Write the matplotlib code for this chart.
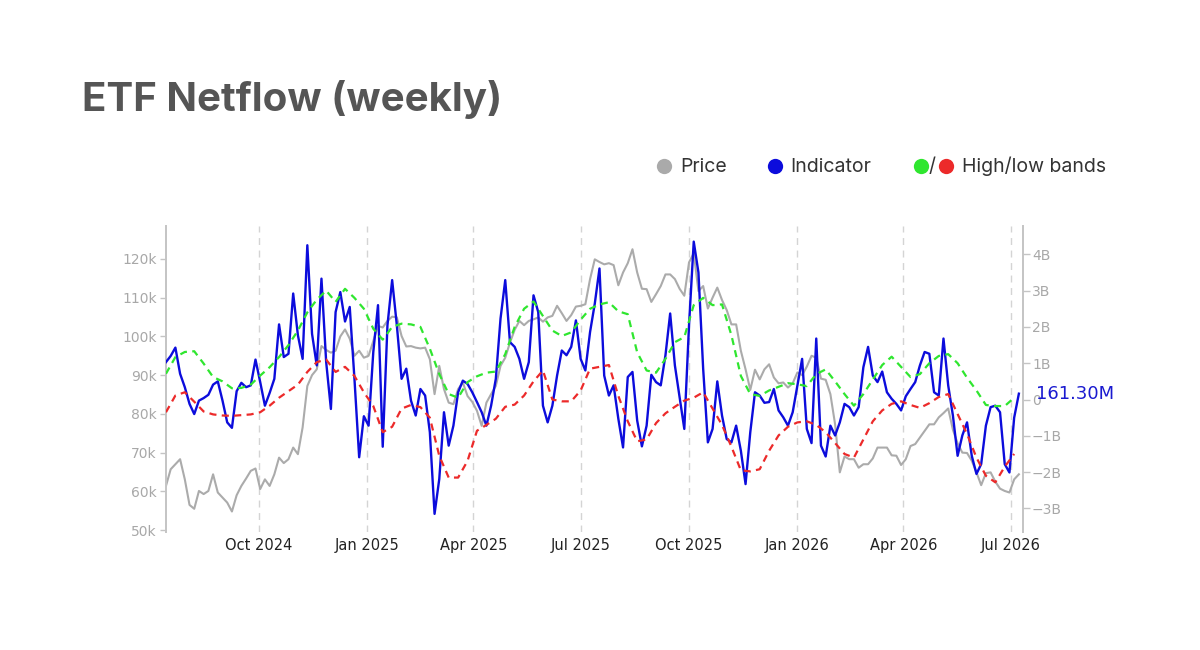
import numpy as np
import pandas as pd
import matplotlib
matplotlib.use("Agg")
import matplotlib.pyplot as plt
import matplotlib.dates as mdates
from matplotlib.ticker import FuncFormatter, MultipleLocator
from matplotlib.transforms import blended_transform_factory

plt.rcParams["font.family"] = ["DejaVu Sans"]

# series sampled every 4 days (price, indicator) and every 8 days (bands)
start_date = "2024-07-14"
step_days = 4
band_step_days = 8

price_k = [
    61.4, 65.7, 67.0, 68.3, 63.1, 56.5, 55.5, 60.1, 59.3, 60.1,
    64.4, 59.7, 58.4, 57.1, 54.8, 59.0, 61.4, 63.3, 65.3, 65.9,
    60.6, 63.1, 61.4, 64.4, 68.7, 67.3, 68.3, 71.3, 69.6, 76.5,
    87.2, 90.0, 91.5, 97.5, 96.5, 95.8, 96.3, 100.0, 101.8, 99.4,
    95.0, 96.3, 94.5, 95.0, 98.8, 102.7,
    102.3, 104.0, 105.1, 104.9, 100.1, 97.4, 97.5, 97.1, 96.9, 97.1,
    94.1, 85.1, 92.4, 86.4, 82.9, 82.5, 86.4, 88.1, 84.6, 83.1,
    80.8, 76.9, 82.9, 85.1, 87.2, 92.4, 94.5, 98.4, 101.7, 104.0,
    102.9, 104.0, 104.4, 104.9, 103.8, 104.9, 105.3, 107.9, 106.0, 104.0,
    105.5, 107.7, 107.9, 108.3, 114.8, 119.9,
    119.2, 118.6, 118.9, 118.4, 113.2, 116.5, 118.9, 122.5, 116.5, 112.3,
    112.2, 108.9, 110.9, 113.0, 116.0, 116.0, 114.8, 112.3, 110.5, 119.1,
    121.5, 111.7, 113.0, 107.2, 110.0, 112.6, 109.4, 106.8, 103.1, 103.1,
    96.3, 91.5, 86.2, 91.4, 88.9, 91.5, 92.8, 89.4, 87.9, 88.1,
    86.8, 87.9, 90.7, 90.0, 92.2,
    95.0, 94.5, 89.1, 88.8, 85.1, 77.3, 64.9, 69.0, 68.3, 68.3,
    66.1, 67.0, 67.0, 68.5, 71.3, 71.3, 71.3, 69.3, 69.2, 66.8,
    68.3, 71.7, 72.2, 73.9, 75.6, 77.3, 77.3, 79.1, 80.2, 81.4,
    75.9, 72.4, 70.0, 69.9, 67.9, 64.9, 61.6, 64.7, 64.9, 62.5,
    60.7, 60.1, 59.7, 63.1, 64.4,
]

indicator_b = [
    1.03, 1.20, 1.43, 0.71, 0.34, -0.12, -0.40, -0.03, 0.04, 0.13,
    0.41, 0.50, -0.03, -0.63, -0.78, 0.23, 0.46, 0.34, 0.39, 1.10,
    0.48, -0.17, 0.18, 0.57, 2.07, 1.17, 1.26, 2.92, 1.77, 1.12,
    4.25, 1.81, 0.94, 3.33, 1.03, -0.26, 2.41, 2.96, 2.15, 2.55,
    0.57, -1.59, -0.46, -0.72, 1.31, 2.60,
    -1.30, 2.04, 3.29, 2.04, 0.57, 0.85, -0.03, -0.44, 0.29, 0.11,
    -0.90, -3.15, -2.19, -0.35, -1.27, -0.72, 0.20, 0.52, 0.43, 0.20,
    -0.07, -0.35, -0.72, -0.17, 0.57, 2.23, 3.29, 1.58, 1.45, 1.12,
    0.57, 1.03, 2.87, 2.41, -0.17, -0.63, -0.17, 0.66, 1.35, 1.22,
    1.45, 2.18, 1.12, 0.80, 1.86, 2.64,
    3.61, 0.66, 0.11, 0.39, -0.53, -1.32, 0.62, 0.76, -0.58, -1.29,
    -0.72, 0.68, 0.48, 0.39, 1.22, 2.37, 0.94, 0.06, -0.81, 2.04,
    4.35, 3.50, 0.85, -1.18, -0.81, 0.50, -0.44, -1.09, -1.18, -0.72,
    -1.41, -2.33, -0.90, 0.20, 0.11, -0.09, -0.07, 0.29, -0.30, -0.49,
    -0.72, -0.35, 0.39, 1.12, -0.81,
    -1.20, 1.68, -1.27, -1.57, -0.72, -0.99, -0.63, -0.12, -0.21, -0.44,
    -0.21, 0.89, 1.45, 0.66, 0.48, 0.77, 0.20, 0.02, -0.12, -0.30,
    0.09, 0.29, 0.48, 0.94, 1.31, 1.26, 0.20, 0.11, 1.68, 0.39,
    -0.44, -1.55, -0.99, -0.63, -1.55, -2.05, -1.78, -0.72, -0.21, -0.17,
    -0.35, -1.78, -2.01, -0.50, 0.1613,
]

high_band_b = [
    0.71, 1.17, 1.31, 1.33, 0.99, 0.62, 0.50, 0.31, 0.32, 0.41,
    0.66, 0.89, 1.17, 1.50, 1.90, 2.40, 2.75, 3.00, 2.69, 3.05,
    2.80, 2.50, 1.95,
    1.65, 2.00, 2.09, 2.07, 2.00, 1.40, 0.70, 0.15, 0.05, 0.48,
    0.64, 0.74, 0.77,
    1.25, 2.00, 2.50, 2.70, 2.30, 1.90, 1.75, 1.85, 2.20, 2.50,
    2.62, 2.68, 2.43, 2.35, 1.30, 0.80, 0.74, 1.12, 1.58, 1.72,
    2.60, 2.80, 2.60, 2.62, 1.77, 0.65,
    0.15, 0.10, 0.25, 0.35, 0.45, 0.42, 0.37, 0.70, 0.83, 0.50,
    0.15, -0.17, 0.15, 0.55, 0.95, 1.18, 0.90, 0.62, 0.70, 1.00,
    1.20, 1.25, 1.00, 0.60, 0.25, -0.15, -0.18, -0.18, 0.05,
]

low_band_b = [
    -0.35, 0.11, 0.20, -0.06, -0.33, -0.41, -0.44, -0.45, -0.43, -0.41,
    -0.35, -0.17, 0.05, 0.23, 0.41, 0.76, 1.03, 1.10, 0.76, 0.90,
    0.65, 0.20, -0.18,
    -0.90, -0.75, -0.25, -0.15, -0.21, -0.50, -1.55, -2.15, -2.15, -1.69,
    -0.86, -0.70, -0.53,
    -0.20, -0.14, 0.11, 0.50, 0.80, 0.00, -0.05, -0.05, 0.25, 0.85,
    0.90, 0.95, 0.10, -0.60, -1.15, -1.10, -0.65, -0.38, -0.20, -0.03,
    0.05, 0.20, -0.25, -0.70, -1.30, -1.95,
    -1.98, -1.92, -1.41, -0.99, -0.75, -0.63, -0.60, -0.70, -0.90, -1.20,
    -1.50, -1.60, -1.10, -0.60, -0.30, -0.12, -0.05, -0.15, -0.23, -0.10,
    0.07, 0.15, -0.40, -0.95, -1.60, -2.10, -2.28, -1.85, -1.50,
]

start = pd.Timestamp(start_date)
dates = start + pd.to_timedelta(np.arange(len(price_k)) * step_days, unit="D")
band_dates = start + pd.to_timedelta(np.arange(len(high_band_b)) * band_step_days, unit="D")

price = np.array(price_k) * 1e3
indicator = np.array(indicator_b) * 1e9
high_band = np.array(high_band_b) * 1e9
low_band = np.array(low_band_b) * 1e9

fig = plt.figure(figsize=(12, 6.5), dpi=100)
ax = fig.add_axes([0.1383, 0.1815, 0.7142, 0.4708])
ax2 = ax.twinx()

ax.plot(dates, price, color="#ababab", lw=1.5)
ax2.plot(dates, indicator, color="#0c0cdc", lw=1.7)
ax2.plot(band_dates, high_band, color="#2fe62f", lw=1.6, ls=(0, (3.2, 2.4)))
ax2.plot(band_dates, low_band, color="#ec2a2a", lw=1.6, ls=(0, (3.2, 2.4)))

ax.set_xlim(start, start + pd.Timedelta(days=727.5))
ax.set_ylim(49500, 128500)
ax2.set_ylim(-3.65e9, 4.78e9)

ax.xaxis.set_major_locator(mdates.MonthLocator(bymonth=[1, 4, 7, 10]))
ax.xaxis.set_major_formatter(mdates.DateFormatter("%b %Y"))
ax.yaxis.set_major_locator(MultipleLocator(10000))
ax.yaxis.set_major_formatter(FuncFormatter(lambda v, p: f"{int(round(v / 1000))}k"))
ax2.yaxis.set_major_locator(MultipleLocator(1e9))


def fmt_b(v, p):
    b = int(round(v / 1e9))
    if b == 0:
        return "0"
    return f"{b}B".replace("-", "\u2212")


ax2.yaxis.set_major_formatter(FuncFormatter(fmt_b))

ax.grid(axis="x", color="#d4d4d4", lw=1.0, ls=(0, (5, 4)))
for a in (ax, ax2):
    a.spines["top"].set_visible(False)
    a.spines["bottom"].set_visible(False)
    a.spines["left"].set_color("#c4c4c4")
    a.spines["right"].set_color("#c4c4c4")
    a.spines["left"].set_linewidth(1.4)
    a.spines["right"].set_linewidth(1.4)
ax.spines["right"].set_visible(False)
ax2.spines["left"].set_visible(False)

ax.tick_params(axis="x", length=0, pad=4, labelsize=10.5, labelcolor="#222222")
ax.tick_params(axis="y", length=4.5, width=1, color="#c4c4c4", pad=2,
               labelsize=10, labelcolor="#a8a8a8")
ax2.tick_params(axis="y", length=5, width=1, color="#c4c4c4", pad=1.5,
                labelsize=10, labelcolor="#a8a8a8")

last = indicator_b[-1]
ax2.text(1.015, last * 1e9, f"{last * 1000:.2f}M", color="#1a1ad0", fontsize=13,
         va="center", ha="left", clip_on=False,
         transform=blended_transform_factory(ax2.transAxes, ax2.transData))

# title and legend on a pixel overlay
lay = fig.add_axes([0, 0, 1, 1])
lay.set_xlim(0, 1200)
lay.set_ylim(650, 0)
lay.axis("off")

lay.text(82, 111, "ETF Netflow (weekly)", fontsize=29, fontweight="bold",
         family=["Inter", "DejaVu Sans"], color="#555555", va="baseline", ha="left")

leg_font = dict(fontsize=14, family=["Inter", "DejaVu Sans"], color="#333333",
                va="baseline", ha="left")
lay.plot(664, 165.5, "o", ms=11, color="#aaaaaa", mec="none")
lay.text(680, 172, "Price", **leg_font)
lay.plot(775, 165.5, "o", ms=11, color="#0c0cdc", mec="none")
lay.text(790, 172, "Indicator", **leg_font)
lay.plot(921, 165.5, "o", ms=11, color="#2fe62f", mec="none")
lay.text(929, 172, "/", **leg_font)
lay.plot(946, 165.5, "o", ms=11, color="#ec2a2a", mec="none")
lay.text(962, 172, "High/low bands", **leg_font)

fig.savefig("out.png", dpi=100)
